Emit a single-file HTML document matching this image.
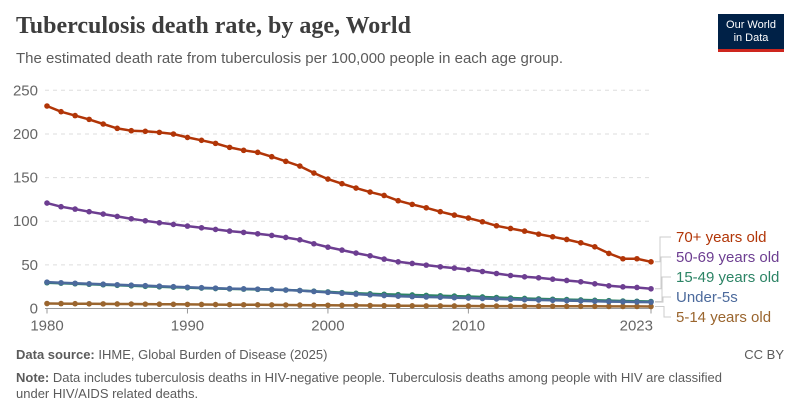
<!DOCTYPE html>
<html><head><meta charset="utf-8"><style>
body{margin:0;background:#fff;font-family:"Liberation Sans",sans-serif;}
#wrap{position:relative;width:800px;height:418px;overflow:hidden;}
.t{position:absolute;white-space:nowrap;}
</style></head><body>
<div id="wrap">
<div class="t" style="left:16px;top:13px;font-family:'Liberation Serif',serif;font-size:24px;font-weight:bold;color:#3d3d3d;">Tuberculosis death rate, by age, World</div>
<div class="t" style="left:16px;top:50px;font-size:15px;color:#5b5b5b;">The estimated death rate from tuberculosis per 100,000 people in each age group.</div>
<div style="position:absolute;left:718px;top:14px;width:66px;height:38px;background:#002147;border-bottom:3px solid #ce261e;box-sizing:border-box;color:#fff;font-size:11px;line-height:13px;text-align:center;padding-top:5px;">Our World<br>in Data</div>
<svg id="chart" width="800" height="418" style="position:absolute;left:0;top:0;"></svg>
<div class="t" style="left:16px;top:347px;font-size:13px;color:#5b5b5b;"><b>Data source:</b> IHME, Global Burden of Disease (2025)</div>
<div class="t" style="right:16px;top:347px;font-size:13px;color:#5b5b5b;">CC BY</div>
<div class="t" style="left:16px;top:370px;font-size:13px;color:#5b5b5b;line-height:16px;"><b>Note:</b> Data includes tuberculosis deaths in HIV-negative people. Tuberculosis deaths among people with HIV are classified<br>under HIV/AIDS related deaths.</div>
</div>
<script>
const years=[];for(let y=1980;y<=2023;y++)years.push(y);
const yTicks=[0,50,100,150,200,250];
const xTicks=[1980,1990,2000,2010,2023];
const seriesNames=["70+ years old","50-69 years old","15-49 years old","Under-5s","5-14 years old"];
const s70=[232,225.5,221,216.7,211.4,206.4,203.7,203,201.8,199.9,196,192.7,189.2,184.6,181.2,178.9,173.9,168.6,163.2,155.2,148.3,143,138,133.4,129.5,123.5,119.3,115.4,110.9,107,103.6,99.4,94.8,91.7,88.7,85.2,82.2,79.1,75.3,70.7,63.1,57,57,53.5];
const s50=[120.8,116.6,113.9,110.9,108.2,105.5,102.8,100.5,98.2,96.3,94.4,92.5,90.6,88.7,87.2,85.6,83.7,81.4,78.7,74.2,70.3,66.9,63.5,60.4,56.6,53.5,51.6,49.7,47.8,46.3,44.7,42.4,40.1,37.8,36.3,35.2,33.6,32.1,30.6,28.3,26,24.8,24.1,22.6];
const s15=[29.5,29.0,28.4,27.8,27.2,26.6,26.0,25.4,24.9,24.4,23.9,23.4,22.9,22.5,22.2,21.9,21.6,21.2,20.6,19.8,19.0,18.2,17.4,16.8,16.3,15.9,15.5,15.0,14.6,14.2,13.8,13.2,12.6,12.0,11.5,11.0,10.6,10.2,9.8,9.4,9.0,8.6,8.3,8.0];
const sU5=[30.2,29.5,28.9,28.3,27.8,27.2,26.7,26.2,25.6,25.0,24.3,23.8,23.3,22.8,22.5,22.2,21.8,21.2,20.5,19.5,18.5,17.5,16.5,15.6,14.8,14.1,13.6,13.2,12.8,12.4,12.0,11.5,11.0,10.5,10.1,9.7,9.4,9.0,8.7,8.3,7.9,7.7,7.5,7.3];
const s5=[5.7,5.6,5.5,5.4,5.3,5.2,5.1,5.0,4.9,4.8,4.7,4.6,4.5,4.4,4.3,4.2,4.1,4.0,3.9,3.8,3.7,3.6,3.5,3.4,3.3,3.2,3.1,3.0,3.0,2.9,2.9,2.8,2.8,2.7,2.7,2.6,2.6,2.5,2.5,2.5,2.4,2.4,2.4,2.3];
const ns="http://www.w3.org/2000/svg";
const svg=document.getElementById('chart');
const X0=47,X1=651,Y0=308.5,Y1=90.3;
const xs=v=>X0+(v-1980)/(2023-1980)*(X1-X0);
const ys=v=>Y0-(v/250)*(Y0-Y1);
function mk(tag,attrs){const e=document.createElementNS(ns,tag);for(const k in attrs)e.setAttribute(k,attrs[k]);svg.appendChild(e);return e;}
yTicks.forEach(t=>{
  const l=mk('line',{x1:45,x2:X1,y1:ys(t),y2:ys(t),stroke:t?'#dddddd':'#999',"stroke-dasharray":t?'4,4':'none'});
  
  
  const tx=mk('text',{x:38,y:ys(t)+5,"text-anchor":"end","font-size":15,fill:'#666',"font-family":"Liberation Sans, sans-serif"});
  tx.textContent=t;
  
  
});
xTicks.forEach(t=>{
  const l=mk('line',{x1:xs(t),x2:xs(t),y1:Y0,y2:Y0+5,stroke:'#999'});
  
  
  const anchor=t===2023?'end':'middle';
  const tx=mk('text',{x:t===2023?xs(t)+2:xs(t),y:Y0+22,"text-anchor":anchor,"font-size":15,fill:'#666',"font-family":"Liberation Sans, sans-serif"});
  tx.textContent=t;
  
  
});
const allSeries=[s70,s50,s15,sU5,s5];
const colors=['#b13507','#6d3e91','#2c8465','#4c6a9c','#9a652e'];
const labelY=[242,262,282,302,322];
const keys=['70-plus','50-69','15-49','under-5','5-14'];
[4,2,3,1,0].forEach(i=>{
  const d=allSeries[i].map((v,j)=>(j?'L':'M')+xs(years[j]).toFixed(1)+','+ys(v).toFixed(1)).join('');
  const p=mk('path',{d:d,fill:'none',stroke:colors[i],"stroke-width":2.5});
  
  
  allSeries[i].forEach((v,j)=>{
    const c=mk('circle',{cx:xs(years[j]),cy:ys(v),r:2.8,fill:colors[i]});
    
    
  });
});
allSeries.forEach((s,i)=>{
  const last=s[s.length-1];
  const ly=labelY[i]-5;
  const c=mk('path',{d:`M${X1+4},${ys(last)}H${660+i}V${ly}H${671}`,fill:'none',stroke:'#ccc',"stroke-width":1});
  
  
  const tx=mk('text',{x:676,y:labelY[i],"font-size":15,fill:colors[i],"font-family":"Liberation Sans, sans-serif"});
  tx.textContent=seriesNames[i];
  
  
});
</script>
</body></html>
